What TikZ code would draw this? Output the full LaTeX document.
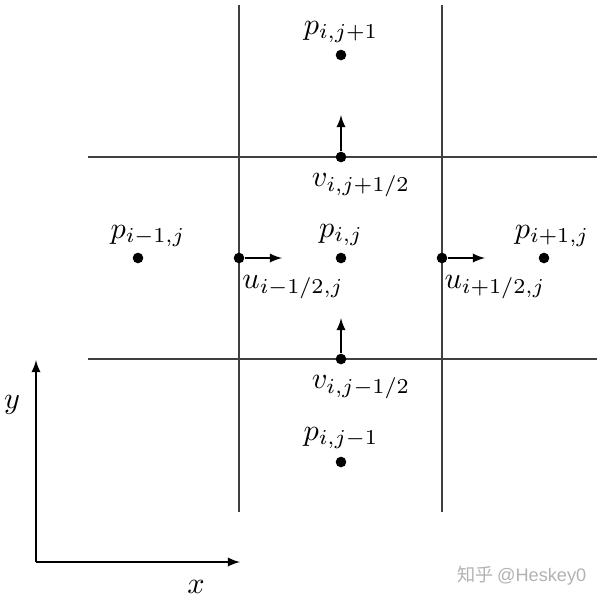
\documentclass[tikz,border=0pt]{standalone}
\usepackage{fontspec}
\newfontfamily\cjk{Noto Sans CJK SC}
\usetikzlibrary{positioning}

\begin{document}
\begin{tikzpicture} [x=0.33pt,y=-0.33pt,
  pt/.style= {shape=circle,fill=black,inner sep=0,minimum size=3.5pt},
  lbl/.style= {inner sep=0},
  face/.style= {line width=0.4pt,draw=black!75},
  vel/.style= {-latex,line width=0.4pt}]
\useasboundingbox (0,0) rectangle (600,604);

% cell faces
\draw[face] (239,5) -- (239,512);
\draw[face] (442,5) -- (442,512);
\draw[face] (88,157) -- (597,157);
\draw[face] (88,359) -- (597,359);

% pressure points
\node[pt] (p) at (341,258) {};
\node[pt] (pW) at (138,258) {};
\node[pt] (pE) at (544,258) {};
\node[pt] (pN) at (341,55) {};
\node[pt] (pS) at (341,462) {};
\node[lbl] (lp) at (341,235) {$p_{i,j}$};
\node[lbl] (lpW) at (148,236) {$p_{i-1,j}$};
\node[lbl] (lpE) at (552,236) {$p_{i+1,j}$};
\node[lbl] (lpN) at (341,32) {$p_{i,j+1}$};
\node[lbl] (lpS) at (341,438) {$p_{i,j-1}$};

% velocity points
\node[pt] (uW) at (239,258) {};
\node[pt] (uE) at (442,258) {};
\node[pt] (vN) at (341,157) {};
\node[pt] (vS) at (341,359) {};
\coordinate (uWt) at (282,258);
\coordinate (uEt) at (485,258);
\coordinate (vNt) at (341,115);
\coordinate (vSt) at (341,318);
\draw[vel] (uW) -- (uWt);
\draw[vel] (uE) -- (uEt);
\draw[vel] (vN) -- (vNt);
\draw[vel] (vS) -- (vSt);
\node[lbl] (luW) at (293,287) {$u_{i-1/2,j}$};
\node[lbl] (luE) at (495,287) {$u_{i+1/2,j}$};
\node[lbl] (lvN) at (361,185) {$v_{i,j+1/2}$};
\node[lbl] (lvS) at (361,387) {$v_{i,j-1/2}$};

% axes
\coordinate (o) at (36,562);
\coordinate (ox) at (240,562);
\coordinate (oy) at (36,360);
\draw[vel] (o) -- (ox);
\draw[vel] (o) -- (oy);
\node[lbl] (lx) at (196,587) {$x$};
\node[lbl] (ly) at (12,405) {$y$};

\node[lbl,text=black!30,font=\fontsize{6}{7}\selectfont] (wm) at (522,576) {{\cjk 知乎}\,{\fontspec{Liberation Sans}@Heskey0}};
\end{tikzpicture}
\end{document}
